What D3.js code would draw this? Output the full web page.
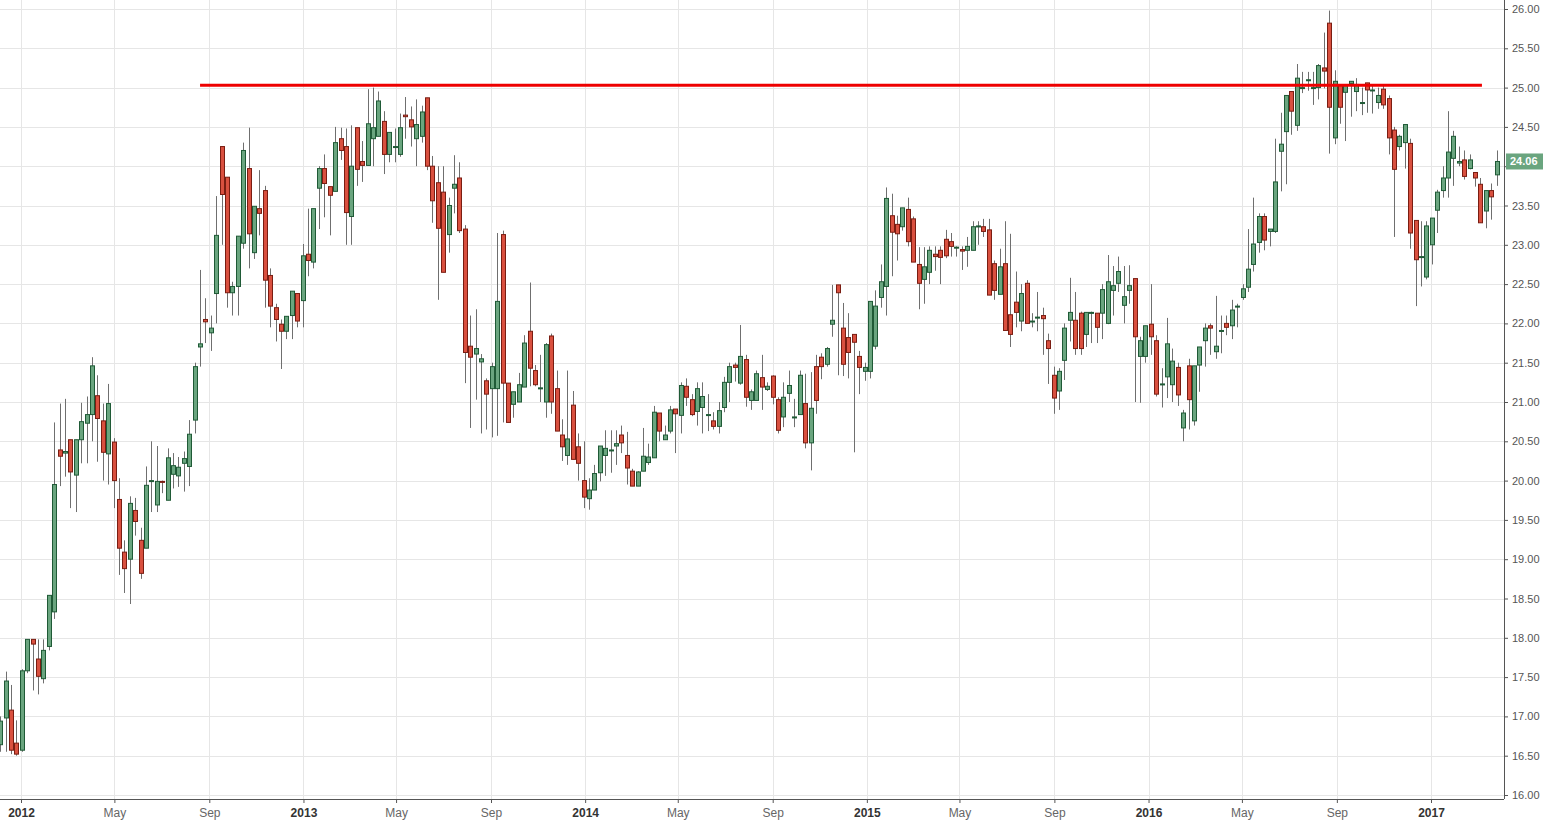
<!DOCTYPE html>
<html><head><meta charset="utf-8">
<script src="https://cdn.jsdelivr.net/npm/d3@7"></script>
<style>body{margin:0;background:#fff;font-family:Arial,"Liberation Sans",sans-serif}</style>
</head><body><svg id="c" width="1543" height="820"></svg>
<script>
const startDate = "2011-12-05";
const opens = [16.64,16.98,17.08,16.66,16.57,17.58,17.98,17.73,17.48,17.89,18.33,20.39,20.35,20.52,20.07,20.52,20.73,20.84,21.08,20.76,20.34,20.49,19.76,19.09,19.0,19.62,19.24,19.14,19.99,19.69,19.99,19.75,20.08,20.06,20.22,20.18,20.77,
21.70,22.05,21.88,22.38,24.25,23.86,22.39,22.47,23.02,23.97,22.9,23.46,23.69,22.61,22.2,21.99,21.9,22.1,22.38,22.29,22.88,22.78,23.72,23.97,23.74,23.68,24.35,24.25,23.36,24.49,24.06,24.01,24.35,24.38,24.57,24.15,24.25,24.15,24.65,24.59,24.35,24.38,24.87,24.0,23.79,23.67,23.13,23.72,23.85,
23.2,21.71,21.61,21.51,21.27,21.17,21.17,23.13,21.24,20.97,21.0,21.19,21.9,21.4,21.18,21.0,21.84,21.17,20.58,20.32,20.96,20.43,20.0,19.77,19.88,20.1,20.32,20.39,20.44,20.58,20.32,20.12,19.93,20.12,20.23,20.29,20.86,20.52,20.63,20.91,20.83,
21.2,21.03,20.88,20.93,20.84,20.76,20.69,20.93,21.25,21.47,21.24,21.54,21.02,21.02,21.31,21.16,21.33,21.03,20.81,21.11,20.81,20.84,20.98,20.48,21.45,21.57,21.48,21.99,22.49,21.94,21.82,21.86,21.58,21.39,21.39,21.71,22.33,
22.47,23.37,23.26,23.23,23.45,23.33,22.75,22.56,22.65,22.88,22.93,23.07,23.04,22.97,22.94,22.93,22.93,23.24,23.23,23.19,22.76,22.37,22.76,22.11,22.27,22.03,22.51,22.03,22.08,22.1,21.78,21.34,21.14,21.53,22.04,22.04,22.13,21.86,22.14,22.13,22.13,22.0,22.42,22.51,22.23,22.42,22.57,21.58,21.58,21.99,21.78,21.23,
21.32,21.22,21.44,20.67,21.46,20.76,21.47,21.78,21.97,21.64,21.91,22.0,21.97,22.22,22.33,22.46,22.75,23.03,23.36,23.17,23.17,24.19,24.44,24.95,24.52,25.0,25.1,24.99,25.0,25.25,25.82,24.36,25.03,24.94,25.05,24.95,24.81,25.06,24.97,24.81,24.98,24.86,24.46,24.25,24.3,24.29,23.31,22.85,22.59,23.0,23.44,23.69,23.85,24.1,24.04,24.08,23.97,23.92,23.77,23.43,23.69,23.89];
const closes = [16.94,17.45,16.57,16.52,17.58,17.98,17.92,17.51,17.84,18.54,19.95,20.31,20.37,20.11,20.52,20.75,20.84,21.46,20.79,20.36,20.98,20.0,19.14,18.88,19.71,19.48,18.82,19.94,20.0,19.99,19.98,20.29,20.19,20.17,20.28,20.59,21.45,
21.74,22.02,21.94,23.12,23.64,22.39,22.47,23.11,24.2,23.14,23.49,23.4,22.55,22.22,22.05,21.9,22.09,22.41,22.03,22.86,22.8,23.46,23.97,23.78,23.63,24.3,24.2,23.41,24.0,23.96,24.01,24.54,24.49,24.83,24.15,24.43,24.25,24.49,24.63,24.5,24.53,24.69,24.0,23.56,23.21,22.65,23.5,23.77,23.18,
21.63,21.57,21.68,21.55,21.1,21.45,22.28,21.24,20.74,21.13,21.22,21.75,21.43,21.22,21.18,21.73,21.0,20.63,20.43,20.53,20.27,20.22,19.79,19.88,20.09,20.44,20.41,20.39,20.47,20.48,20.16,19.93,20.11,20.31,20.3,20.87,20.63,20.58,20.9,20.85,21.21,
21.06,20.84,21.17,21.07,20.84,20.69,20.89,21.25,21.45,21.44,21.58,21.06,21.13,21.36,21.19,21.2,21.06,20.64,21.06,21.21,20.81,21.34,20.48,20.92,21.02,21.45,21.68,22.04,22.39,21.48,21.63,21.76,21.44,21.44,22.28,22.22,22.53,
23.59,23.16,23.14,23.47,23.04,22.78,22.51,22.72,22.93,22.85,22.84,22.86,22.98,22.97,22.92,22.98,23.23,23.24,23.17,22.36,22.42,22.72,21.91,21.86,22.14,22.38,22.0,22.03,22.08,22.06,21.68,21.05,21.39,21.94,22.14,21.68,21.68,22.14,22.14,21.95,22.43,22.53,22.48,22.66,22.34,22.48,21.83,21.78,21.97,21.83,21.1,21.23,
21.74,21.52,21.09,20.86,21.03,21.46,21.7,21.94,21.94,21.71,21.91,21.95,22.17,22.22,22.44,22.69,23.01,23.36,23.06,23.2,23.8,24.28,24.9,24.7,25.12,25.0,25.1,25.0,25.28,25.21,24.75,25.08,24.75,25.03,25.08,25.04,24.81,24.97,24.97,24.9,24.78,24.36,23.96,24.38,24.53,23.15,22.81,22.85,23.24,23.34,23.67,23.85,24.18,24.38,24.06,23.87,24.08,23.85,23.28,23.69,23.61,24.06];
const highs = [17.0,17.57,17.4,16.95,17.6,17.98,17.98,17.98,17.98,18.54,20.74,20.98,21.04,20.52,20.52,20.99,21.07,21.57,21.34,20.98,21.23,20.54,20.03,19.24,19.8,19.78,19.4,20.18,20.5,20.44,20.0,20.41,20.35,20.3,20.37,20.77,21.5,
22.68,22.32,22.1,23.62,24.25,23.86,22.53,23.11,24.3,24.49,23.49,23.95,23.75,22.7,22.25,22.05,22.09,22.41,22.38,23.01,23.46,23.46,24.0,24.15,23.74,24.5,24.49,24.48,24.52,24.49,24.32,24.98,25.0,24.95,24.7,24.43,24.48,24.67,24.88,24.76,24.85,24.77,24.87,24.13,24.0,24.0,23.6,24.14,24.05,
23.25,22.1,22.18,21.61,21.3,21.5,23.15,23.18,21.24,21.13,21.37,21.85,22.52,21.47,21.6,21.75,21.87,21.4,20.78,21.4,21.14,20.6,20.5,20.03,20.2,20.44,20.64,20.64,20.64,20.7,20.62,20.15,20.12,20.67,20.47,20.95,20.86,20.7,20.95,20.91,21.25,
21.3,21.1,21.25,21.25,21.1,20.87,21.0,21.32,21.5,21.5,21.98,21.6,21.16,21.4,21.6,21.25,21.34,21.06,21.25,21.4,21.04,21.4,21.36,21.38,21.6,21.62,21.7,22.49,22.49,22.26,22.13,21.86,21.65,21.5,22.28,22.42,22.75,
23.73,23.65,23.37,23.47,23.6,23.36,22.97,22.97,22.98,22.98,22.98,23.19,23.15,22.98,22.98,23.1,23.3,23.3,23.33,23.33,22.8,22.95,23.3,23.14,22.66,22.5,22.55,22.13,22.4,22.2,21.87,21.45,21.43,22.0,22.58,22.4,22.15,22.14,22.15,22.13,22.5,22.87,22.73,22.85,22.73,22.74,22.57,21.83,21.97,22.5,21.85,21.43,
22.07,21.68,21.5,20.9,21.55,21.46,21.7,22.0,22.0,22.35,22.1,22.1,22.3,22.25,22.5,23.2,23.6,23.4,23.4,23.2,24.35,24.68,24.9,24.95,25.3,25.2,25.2,25.2,25.3,25.7,25.98,25.22,25.03,25.03,25.08,25.12,25.0,25.06,25.02,25.0,25.03,24.9,24.5,24.4,24.53,24.35,23.31,23.3,23.3,23.34,23.7,24.0,24.7,24.45,24.25,24.2,24.15,23.92,23.85,23.69,23.78,24.2];
const lows = [16.55,16.55,16.52,16.5,16.55,17.55,17.33,17.28,17.42,17.84,18.24,19.93,20.05,19.65,19.6,20.22,20.22,20.5,20.24,20.0,19.95,19.65,18.8,18.57,18.43,19.3,18.75,19.14,19.6,19.6,19.84,19.75,19.9,19.92,19.86,19.93,20.6,
21.45,21.75,21.65,22.0,23.0,22.2,22.1,22.1,22.95,22.7,22.82,23.12,22.2,21.95,21.77,21.42,21.8,21.8,21.95,21.95,22.6,22.7,23.2,23.35,23.12,23.68,24.08,23.0,23.0,23.75,23.8,24.01,24.0,24.38,23.9,24.05,24.05,24.12,24.35,24.25,24.0,24.3,23.95,23.28,22.3,22.65,22.9,23.4,23.15,
21.24,20.67,21.03,20.6,20.65,20.55,20.57,20.74,20.74,20.8,21.0,21.19,21.2,21.2,21.0,20.8,20.85,20.63,20.25,20.2,20.27,20.0,19.65,19.63,19.88,19.99,20.06,20.1,20.2,20.35,19.95,19.93,19.93,20.12,20.2,20.29,20.5,20.52,20.6,20.35,20.6,
20.95,20.82,20.7,20.6,20.63,20.65,20.6,20.87,21.0,21.26,21.22,20.94,20.9,21.02,20.9,21.14,20.97,20.6,20.68,21.0,20.68,20.84,20.41,20.13,20.85,21.29,21.45,21.83,21.34,21.33,21.3,20.36,21.1,21.27,21.3,21.67,22.2,
22.1,22.6,22.8,23.18,22.98,22.78,22.18,22.25,22.5,22.67,22.5,22.83,22.85,22.85,22.68,22.72,22.93,23.0,23.1,22.36,22.3,22.37,21.91,21.7,21.95,21.9,22.0,21.95,21.9,21.6,21.23,20.85,20.9,21.28,21.77,21.6,21.6,21.7,21.75,21.75,21.8,21.99,22.1,22.4,22.0,22.25,21.0,20.99,21.5,21.6,21.07,20.93,
21.05,21.0,20.95,20.5,20.65,20.7,21.13,21.45,21.6,21.55,21.62,21.85,21.8,21.95,22.3,22.4,22.66,22.9,22.93,22.98,23.15,23.68,23.77,24.4,24.45,24.93,24.96,24.78,24.85,24.99,24.16,24.28,24.54,24.32,24.63,24.7,24.65,24.68,24.67,24.73,24.73,24.15,23.1,24.2,23.97,22.95,22.22,22.47,22.56,22.75,23.15,23.6,23.6,23.75,24.0,23.83,23.96,23.74,23.28,23.21,23.32,23.75];
const yTicks = [16,16.5,17,17.5,18,18.5,19,19.5,20,20.5,21,21.5,22,22.5,23,23.5,24,24.5,25,25.5,26];
const xTicks = ["2012-01-01","2012-05-01","2012-09-01","2013-01-01","2013-05-01","2013-09-01","2014-01-01","2014-05-01","2014-09-01","2015-01-01","2015-05-01","2015-09-01","2016-01-01","2016-05-01","2016-09-01","2017-01-01"];
const levelValue = 25.03;
const levelStart = "2012-08-20", levelEnd = "2017-03-08";
const lastPrice = 24.06;

const parse = d3.utcParse("%Y-%m-%d");
const t0 = parse(startDate);
const dates = closes.map((_, i) => d3.utcDay.offset(t0, 7 * i));
const data = dates.map((d, i) => ({d, o: opens[i], h: highs[i], l: lows[i], c: closes[i]}));

const svg = d3.select("#c");
const W = 1504, axisY = 799;
const x = d3.scaleUtc().domain([parse("2012-01-01"), parse("2017-01-01")]).range([21, 1431]);
const y = d3.scaleLinear().domain([16, 26]).range([795, 9]);

svg.append("g").selectAll("line").data(yTicks).join("line")
  .attr("x1", 0).attr("x2", W).attr("y1", d => Math.round(y(d)) + 0.5).attr("y2", d => Math.round(y(d)) + 0.5)
  .attr("stroke", "#e6e6e6");
svg.append("g").selectAll("line").data(xTicks.map(parse)).join("line")
  .attr("x1", d => Math.round(x(d)) + 0.5).attr("x2", d => Math.round(x(d)) + 0.5).attr("y1", 0).attr("y2", axisY)
  .attr("stroke", "#e6e6e6");

const xa = svg.append("g").attr("transform", `translate(0,${axisY})`)
  .call(d3.axisBottom(x).tickValues(xTicks.map(parse)).tickSize(4)
    .tickFormat(d => d.getUTCMonth() === 0 ? d3.utcFormat("%Y")(d) : d3.utcFormat("%b")(d)));
xa.select(".domain").attr("d", `M0,0.5H${W}`).attr("stroke", "#555");
xa.selectAll(".tick line").attr("stroke", "#555");
xa.selectAll(".tick text").attr("font-size", 12).attr("dy", "0.9em")
  .attr("font-weight", d => d.getUTCMonth() === 0 ? "bold" : "normal")
  .attr("fill", d => d.getUTCMonth() === 0 ? "#333" : "#666");

const ya = svg.append("g").attr("transform", `translate(${W},0)`)
  .call(d3.axisRight(y).tickValues(yTicks).tickSize(4).tickFormat(d3.format(".2f")));
ya.select(".domain").attr("d", `M0.5,0V${axisY}`).attr("stroke", "#555");
ya.selectAll(".tick line").attr("stroke", "#555");
ya.selectAll(".tick text").attr("font-size", 11).attr("fill", "#555").attr("x", 8)
  .style("display", d => Math.abs(y(d) - y(lastPrice)) < 12 ? "none" : null);

const bw = 4;
const g = svg.append("g");
g.selectAll("line").data(data).join("line")
  .attr("x1", d => Math.round(x(d.d)) + 0.5).attr("x2", d => Math.round(x(d.d)) + 0.5)
  .attr("y1", d => y(d.h)).attr("y2", d => y(d.l)).attr("stroke", "#6f6f6f");
g.selectAll("rect").data(data).join("rect")
  .attr("x", d => Math.round(x(d.d)) - bw / 2 + 0.5).attr("width", bw)
  .attr("y", d => y(Math.max(d.o, d.c))).attr("height", d => Math.max(1, Math.abs(y(d.o) - y(d.c))))
  .attr("fill", d => d.c >= d.o ? "#6aa57f" : "#d9503f")
  .attr("stroke", d => d.c >= d.o ? "#1f5a36" : "#7a1d12").attr("stroke-width", 1);

svg.append("line").attr("x1", x(parse(levelStart))).attr("x2", x(parse(levelEnd)))
  .attr("y1", y(levelValue)).attr("y2", y(levelValue)).attr("stroke", "#ee0000").attr("stroke-width", 3);

svg.append("rect").attr("x", W + 2).attr("y", y(lastPrice) - 8).attr("width", 37).attr("height", 16).attr("fill", "#6aa57f");
svg.append("text").attr("x", W + 6).attr("y", y(lastPrice) + 4).attr("font-size", 11).attr("font-weight", "bold")
  .attr("fill", "#fff").text(lastPrice.toFixed(2));
</script></body></html>
